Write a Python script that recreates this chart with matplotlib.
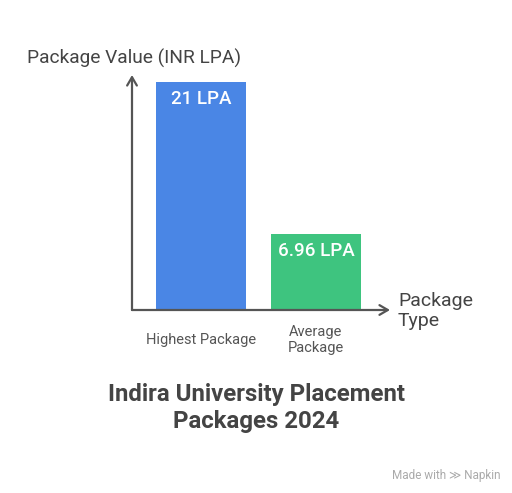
import matplotlib
matplotlib.use("Agg")
import matplotlib.pyplot as plt

categories = ["Highest Package", "Average\nPackage"]
values = [21, 6.96]
bar_labels = ["21 LPA", "6.96 LPA"]
colors = ["#4A86E5", "#3EC47F"]

W, H = 512, 493
plt.rcParams['font.family'] = ['Roboto', 'DejaVu Sans']
fig = plt.figure(figsize=(W/100, H/100), dpi=100)
fig.patch.set_facecolor("white")

def px(x, y):
    return x / W, 1 - y / H

left, right, top, bottom = 132, 390, 75, 310
ax = fig.add_axes([left/W, 1-bottom/H, (right-left)/W, (bottom-top)/H])
ax.set_xlim(-0.597, 1.637)
ax.set_ylim(0, 21*235/228)
bars = ax.bar(range(len(values)), values, width=0.78, color=colors, zorder=2)
for b, lab in zip(bars, bar_labels):
    ax.annotate(lab, (b.get_x()+b.get_width()/2, b.get_height()), xytext=(0, -17),
                textcoords="offset pixels", ha="center", va="center",
                color="white", fontsize=13.5, fontweight=500, zorder=3)
for s in ax.spines.values():
    s.set_visible(False)
ax.set_xticks([]); ax.set_yticks([])
ax.patch.set_alpha(0)
arrow = dict(arrowstyle="->,head_length=0.6,head_width=0.35", color="#555555", lw=1.6,
             shrinkA=0, shrinkB=0)
ax.annotate("", xy=(0, 1.0), xytext=(0, 0), xycoords="axes fraction", arrowprops=arrow)
ax.annotate("", xy=(1.0, 0), xytext=(0, 0), xycoords="axes fraction", arrowprops=arrow)

fig.text(*px(27, 58), "Package Value (INR LPA)", fontsize=13.8, color="#444444", va="center", ha="left")
fig.text(*px(398, 311), "Package\nType", fontsize=14, color="#444444", va="center", ha="left", linespacing=1.2)

cat_x = [201, 316]
for cx, c in zip(cat_x, categories):
    fig.text(*px(cx, 340), c, fontsize=10.5, color="#555555", ha="center", va="center", linespacing=1.15)

fig.text(*px(256, 408), "Indira University Placement\nPackages 2024", fontsize=17.3, fontweight="bold",
         color="#444444", ha="center", va="center", linespacing=1.2)
fig.text(*px(500, 476), "Made with \u226B Napkin", fontsize=8.5, color="#aaaaaa", ha="right", va="center")

fig.savefig("out.png", dpi=100)
